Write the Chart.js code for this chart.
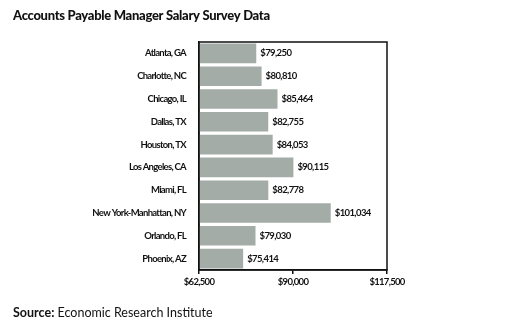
<!DOCTYPE html>
<html>
<head>
<meta charset="utf-8">
<script src="https://cdn.jsdelivr.net/npm/chart.js@4.4.1/dist/chart.umd.min.js"></script>
<style>
  html, body { margin: 0; padding: 0; background: #fff; }
  #wrap { position: relative; width: 510px; height: 325px; }
</style>
</head>
<body>
<div id="wrap"><canvas id="salaryChart" width="510" height="325"></canvas></div>
<script>
"use strict";

const cities = [
    'Atlanta, GA', 'Charlotte, NC', 'Chicago, IL', 'Dallas, TX', 'Houston, TX',
    'Los Angeles, CA', 'Miami, FL', 'New York-Manhattan, NY', 'Orlando, FL', 'Phoenix, AZ'
];
const salaries = [79250, 80810, 85464, 82755, 84053, 90115, 82778, 101034, 79030, 75414];
const axisTicks = [62500, 90000, 117500];

const titleText = 'Accounts Payable Manager Salary Survey Data';
const sourceLabel = 'Source:';
const sourceText = ' Economic Research Institute';

const labelFont = 'Lato, "Open Sans", sans-serif';

const money = (v) => '$' + v.toLocaleString('en-US');

// tighter letters, closer to the condensed face of the original
const tighten = {
    id: 'tighten',
    beforeUpdate(chart) { chart.ctx.letterSpacing = '-0.7px'; },
    beforeDraw(chart) { chart.ctx.letterSpacing = '-0.7px'; }
};

// title, source, box and value labels
const extras = {
    id: 'extras',
    afterDatasetsDraw(chart) {
        const ctx = chart.ctx;
        const area = chart.chartArea;
        const meta = chart.getDatasetMeta(0);

        ctx.save();
        ctx.letterSpacing = '-0.6px';
        ctx.fillStyle = '#111';
        ctx.font = 'bold 9.5px ' + labelFont;
        ctx.textBaseline = 'middle';
        ctx.textAlign = 'left';
        meta.data.forEach((bar, i) => {
            ctx.fillText(money(salaries[i]), bar.x + 4, bar.y);
        });

        ctx.strokeStyle = '#111';
        ctx.lineWidth = 1.5;
        ctx.strokeRect(area.left, area.top, area.right - area.left, area.bottom - area.top);

        ctx.letterSpacing = '-0.3px';
        ctx.textBaseline = 'alphabetic';
        ctx.font = '900 13px ' + labelFont;
        ctx.fillText(titleText, 13, 20);

        ctx.letterSpacing = '0px';
        ctx.font = 'bold 12.5px ' + labelFont;
        ctx.fillText(sourceLabel, 13, 317);
        const w = ctx.measureText(sourceLabel).width;
        ctx.font = '12.5px ' + labelFont;
        ctx.fillText(sourceText, 13 + w, 317);
        ctx.restore();
    }
};

new Chart(document.getElementById('salaryChart'), {
    type: 'bar',
    data: {
        labels: cities,
        datasets: [{
            data: salaries,
            backgroundColor: '#a4aca7',
            borderWidth: 0,
            barPercentage: 0.86,
            categoryPercentage: 1
        }]
    },
    options: {
        indexAxis: 'y',
        responsive: false,
        animation: false,
        layout: {padding: {top: 42, right: 123, left: 0, bottom: 0}},
        plugins: {
            legend: {display: false},
            tooltip: {enabled: false}
        },
        scales: {
            x: {
                min: axisTicks[0],
                max: axisTicks[axisTicks.length - 1],
                afterBuildTicks: (scale) => {
                    scale.ticks = axisTicks.map(v => ({value: v}));
                },
                afterFit: (scale) => { scale.height = 55; },
                grid: {drawOnChartArea: false, drawTicks: true, tickLength: 4, color: '#111', lineWidth: 1.5},
                border: {display: true, color: '#111', width: 1.5},
                ticks: {
                    color: '#111',
                    padding: 2,
                    maxRotation: 0,
                    font: {family: labelFont, size: 9.5, weight: 'bold'},
                    callback: (v) => money(v)
                }
            },
            y: {
                afterFit: (scale) => { scale.width = 199; },
                grid: {display: false},
                border: {display: true, color: '#111', width: 1.5},
                ticks: {
                    color: '#111',
                    padding: 5,
                    font: {family: labelFont, size: 9.5, weight: 'bold'}
                }
            }
        }
    },
    plugins: [tighten, extras]
});
</script>
</body>
</html>
